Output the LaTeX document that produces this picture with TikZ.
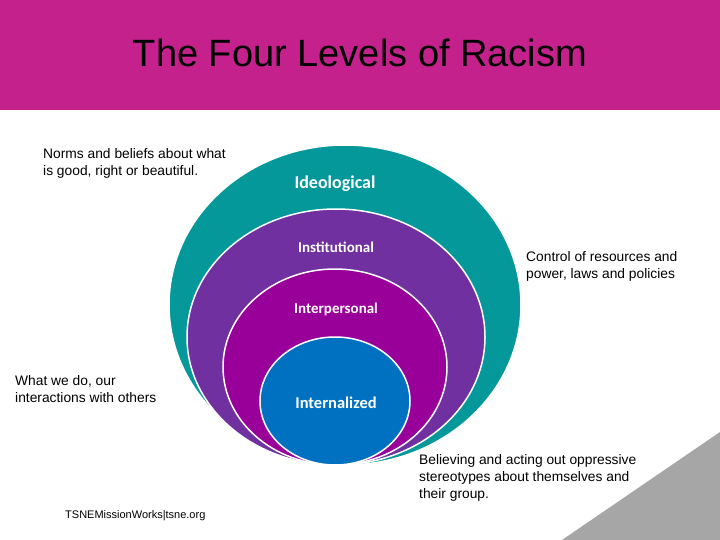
\documentclass[tikz,border=0pt]{standalone}
\usepackage{fontspec}
\setmainfont{Liberation Sans}
\newfontfamily\carlitofam{Carlito}
\definecolor{hdr}{HTML}{C4218C}
\definecolor{teal1}{HTML}{05989A}
\definecolor{purp}{HTML}{7030A0}
\definecolor{mag}{HTML}{990099}
\definecolor{blu}{HTML}{0070C0}
\definecolor{gry}{HTML}{A6A6A6}
\begin{document}
\begin{tikzpicture}[x=1pt,y=-1pt,
  ring/.style={draw=white,line width=1.5pt},
  lvl/.style={text=white,font=\carlitofam\bfseries\fontsize{15}{17}\selectfont},
  note/.style={align=left,anchor=north west,inner sep=0pt,font=\fontsize{13.8}{17}\selectfont}]
\useasboundingbox (0,0) rectangle (720,540);
\fill[white] (0,0) rectangle (720,540);
\fill[hdr] (0,0) rectangle (720,110);
\node[font=\fontsize{38}{42}\selectfont,text=black] (title) at (360,53) {The Four Levels of Racism};
\fill[gry] (720,432) -- (720,540) -- (562,540) -- cycle;
\path[ring,fill=teal1] (345,305) ellipse [x radius=176,y radius=160];
\path[ring,fill=purp] (336,337) ellipse [x radius=149,y radius=128];
\path[ring,fill=mag] (335,367) ellipse [x radius=112,y radius=98];
\path[ring,fill=blu] (335,401) ellipse [x radius=75,y radius=64];
\node[lvl,font=\carlitofam\bfseries\fontsize{18}{20}\selectfont] (ideo) at (335,184) {Ideological};
\node[lvl] (inst) at (336,247) {Institutional};
\node[lvl] (inter) at (336,309) {Interpersonal};
\node[lvl,font=\carlitofam\bfseries\fontsize{16.5}{18}\selectfont] (intern) at (336,403) {Internalized};
\node[note] (n1) at (43,148) {Norms and beliefs about what\\is good, right or beautiful.};
\node[note] (n2) at (526,251) {Control of resources and\\power, laws and policies};
\node[note] (n3) at (15,375) {What we do, our\\interactions with others};
\node[note] (n4) at (419,454) {Believing and acting out oppressive\\stereotypes about themselves and\\their group.};
\node[anchor=west,inner sep=0pt,font=\fontsize{11}{13}\selectfont] (foot) at (65,516) {TSNEMissionWorks|tsne.org};
\end{tikzpicture}
\end{document}
